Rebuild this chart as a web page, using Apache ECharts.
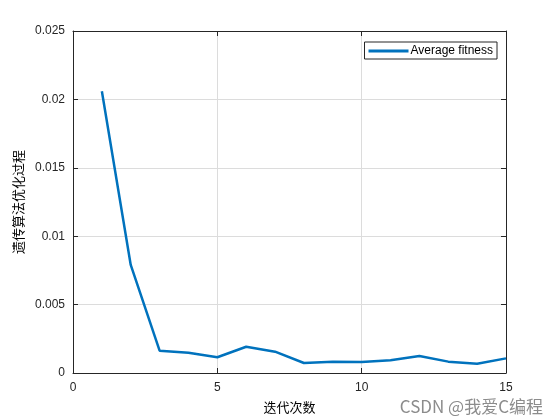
<!DOCTYPE html>
<html>
<head>
<meta charset="utf-8">
<script src="https://cdn.jsdelivr.net/npm/echarts@6/dist/echarts.min.js"></script>
<style>
  html, body { margin: 0; padding: 0; background: #fff; }
  #main { width: 560px; height: 420px; }
</style>
</head>
<body>
<div id="main"></div>
<script>
// 迭代次数
var iterations = [1, 2, 3, 4, 5, 6, 7, 8, 9, 10, 11, 12, 13, 14, 15]
// 平均适应度
var avgFitness = [0.0206, 0.0079, 0.00163, 0.00148, 0.00115, 0.00192, 0.00156, 0.00073,
    0.00083, 0.0008, 0.00093, 0.00124, 0.00083, 0.00068, 0.00107]
var xTicks = [0, 5, 10, 15]
var yTicks = [0, 0.005, 0.01, 0.015, 0.02, 0.025]

var font = 'Liberation Sans, Arial, sans-serif'
var axisColor = '#262626'

function boxAxis(extra) {
    var base = {
        axisLine: { show: true, onZero: false, lineStyle: { color: axisColor, width: 1 } },
        axisTick: { show: true, inside: true, length: 5, lineStyle: { color: axisColor } },
        axisLabel: { show: false },
        splitLine: { show: false }
    }
    return Object.assign(base, extra)
}

var option = {
    animation: false,
    backgroundColor: '#fff',
    grid: { left: 73, right: 54, top: 31, bottom: 47 },
    legend: {
        data: ['Average fitness'],
        right: 63, top: 42,
        orient: 'vertical',
        itemWidth: 40, itemHeight: 3,
        itemGap: 0,
        padding: [3, 4, 2, 4],
        borderColor: '#262626', borderWidth: 1,
        backgroundColor: '#fff',
        textStyle: { fontFamily: font, fontSize: 12, color: '#000', padding: [0, 0, 0, -3] },
        icon: 'rect'
    },
    xAxis: [
        boxAxis({
            type: 'value', min: 0, max: 15, interval: 5, position: 'bottom',
            name: '迭代次数', nameLocation: 'middle', nameGap: 28,
            nameTextStyle: { fontFamily: 'Noto Sans CJK SC', fontSize: 13, color: '#000' },
            axisLabel: { show: true, color: axisColor, fontFamily: font, fontSize: 12, margin: 9,
                formatter: function (v) { return xTicks.indexOf(v) >= 0 ? String(v) : '' } },
            splitLine: { show: true, lineStyle: { color: '#dcdcdc', width: 1 } }
        }),
        boxAxis({ type: 'value', min: 0, max: 15, interval: 5, position: 'top' })
    ],
    yAxis: [
        boxAxis({
            type: 'value', min: 0, max: 0.025, interval: 0.005, position: 'left',
            name: '遗传算法优化过程', nameLocation: 'middle', nameGap: 45,
            nameTextStyle: { fontFamily: 'Noto Sans CJK SC', fontSize: 13, color: '#000' },
            axisLabel: { show: true, color: axisColor, fontFamily: font, fontSize: 12, margin: 8,
                formatter: function (v) {
                    var r = Math.round(v * 1000) / 1000
                    return yTicks.indexOf(r) >= 0 ? String(r) : ''
                } },
            splitLine: { show: true, lineStyle: { color: '#dcdcdc', width: 1 } }
        }),
        boxAxis({ type: 'value', min: 0, max: 0.025, interval: 0.005, position: 'right' })
    ],
    series: [
        {
            name: 'Average fitness',
            type: 'line',
            data: iterations.map(function (x, i) { return [x, avgFitness[i]] }),
            showSymbol: false,
            symbol: 'none',
            lineStyle: { color: '#0072BD', width: 2.5 },
            itemStyle: { color: '#0072BD' }
        }
    ],
    graphic: [
        {
            type: 'text', right: 17, bottom: 5,
            style: { text: 'CSDN @我爱C编程', fill: '#8c8c8c', fontSize: 17,
                fontFamily: 'Noto Sans CJK SC' }
        }
    ]
}

var chart = echarts.init(document.getElementById('main'))
chart.setOption(option)
</script>
</body>
</html>
